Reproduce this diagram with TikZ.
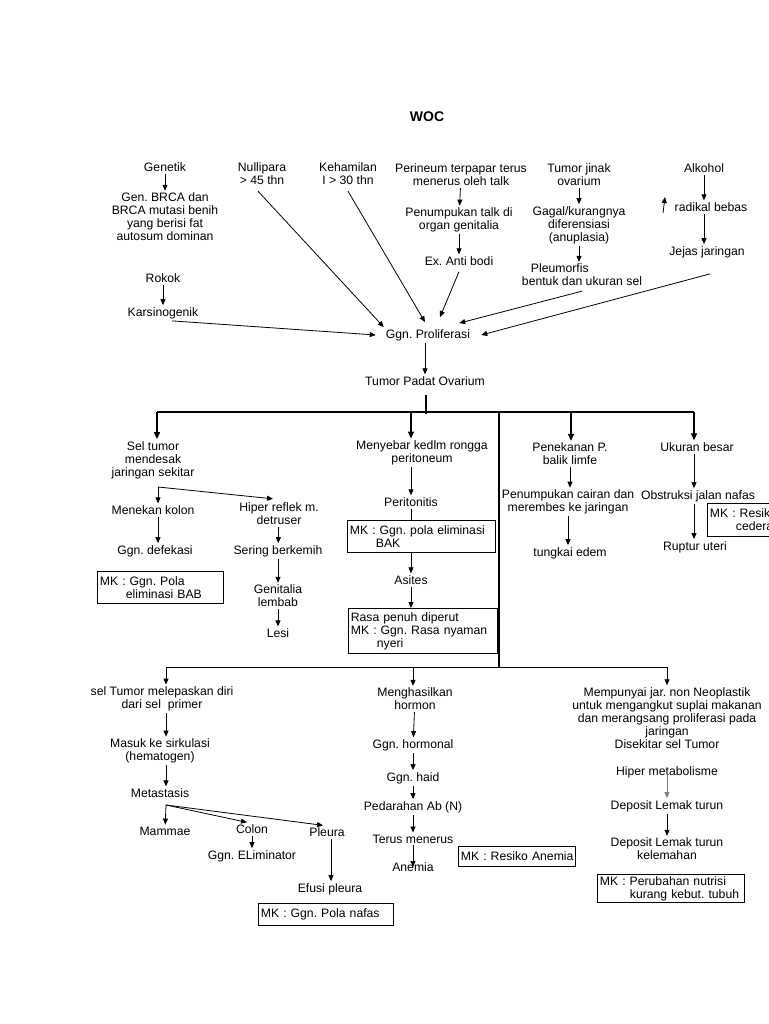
\documentclass[tikz,border=0pt]{standalone}
\usepackage{fontspec}
\setmainfont{Liberation Sans}
\usetikzlibrary{arrows.meta, calc}

\begin{document}
\frenchspacing
\begin{tikzpicture}[x=1pt,y=-1pt,
  every node/.style={font=\fontsize{12.2}{13}\selectfont,align=center,inner sep=2pt},
  arr/.style={-{Triangle[length=6pt,width=5pt]},line width=0.8pt},
  barr/.style={-{Triangle[length=7pt,width=6pt]},line width=1.3pt},
  mk/.style={draw,line width=0.8pt,align=left,anchor=north west,inner xsep=2pt,inner ysep=1pt}]
  \useasboundingbox (0,0) rectangle (768,1024);
  \path (427,117) node (woc) {\bfseries\fontsize{14}{16}\selectfont WOC};
  \path (165,167) node (gen) {Genetik} (165,217) node (brca) {Gen. BRCA dan\\BRCA mutasi benih\\yang berisi fat\\autosum dominan}
  (163,278) node (rok) {Rokok} (163,313) node (kar) {Karsinogenik};
  \path (262,174) node (nul) {Nullipara\\> 45 thn} (348,174) node (keh) {Kehamilan\\I > 30 thn};
  \path (461,175) node (per) {Perineum terpapar terus\\menerus oleh talk} (459,220) node (pen) {Penumpukan talk di\\organ genitalia}
  (459,261) node (exab) {Ex. Anti bodi};
  \path (579,175) node (tj) {Tumor jinak\\ovarium} (579,225) node (gag) {Gagal/kurangnya\\diferensiasi\\(anuplasia)}
  (582,275) node[align=left] (pleu) {\hspace*{9pt}Pleumorfis\\bentuk dan ukuran sel};
  \path (704,168) node (alk) {Alkohol} (711,207) node (rad) {radikal bebas} (707,252) node (jej) {Jejas jaringan};
  \coordinate (up0) at (663,213); \coordinate (up1) at (665,197);
  \path (428,335) node (ggn) {Ggn. Proliferasi} (425,381) node (tpo) {Tumor Padat Ovarium};
  \coordinate (bl) at (157,412); \coordinate (br) at (694,412); \coordinate (bs) at (426,414);
  \coordinate (ba) at (157,412); \coordinate (bb) at (411,412); \coordinate (bc) at (571,412); \coordinate (bd) at (694,412);
  \coordinate (vt) at (499,412); \coordinate (vb) at (499,668);
  \path (153,460) node (st) {Sel tumor\\mendesak\\jaringan sekitar} (153,510) node (mek) {Menekan kolon}
  (155,551) node (def) {Ggn. defekasi} (279,514) node (hr) {Hiper reflek m.\\detruser}
  (278,551) node (sb) {Sering berkemih} (278,596) node (gl) {Genitalia\\lembab} (278,633) node (lesi) {Lesi};
  \coordinate (sp) at (158,487);
  \node[mk,text width=121pt,minimum width=126pt,minimum height=32pt] (box1) at (97,571) {MK : Ggn. Pola\\\hspace*{26pt}eliminasi BAB};
  \path (422,453) node (mny) {Menyebar kedlm rongga\\peritoneum} (411,502) node (prt) {Peritonitis}
  (411,580) node (asi) {Asites};
  \node[mk,text width=143pt,minimum width=148pt,minimum height=32pt] (box2) at (347,520) {MK : Ggn. pola eliminasi\\\hspace*{26pt}BAK};
  \node[mk,text width=144pt,minimum width=149pt,minimum height=45pt] (box3) at (348,608) {Rasa penuh diperut\\MK : Ggn. Rasa nyaman\\\hspace*{26pt}nyeri};
  \path (570,454) node (pnk) {Penekanan P.\\balik limfe} (568,502) node (pnc) {Penumpukan cairan dan\\merembes ke jaringan}
  (570,553) node (tun) {tungkai edem};
  \path (697,447) node (ukb) {Ukuran besar} (698,496) node (obs) {Obstruksi jalan nafas} (695,547) node (rup) {Ruptur uteri};
  \node[mk,text width=90pt,minimum width=95pt,minimum height=33pt] (box4) at (707,503) {MK : Resiko\\\hspace*{26pt}cedera};
  \coordinate (cl) at (166,667); \coordinate (cr) at (667,667);
  \coordinate (ca) at (166,667); \coordinate (cb) at (413,667); \coordinate (cc) at (667,667);
  \path (162,699) node (slt) {sel Tumor melepaskan diri\\dari sel\ \ primer} (160,751) node (msk) {Masuk ke sirkulasi\\(hematogen)}
  (160,793) node (met) {Metastasis} (165,831) node (mam) {Mammae} (252,829) node (col) {Colon}
  (252,856) node (gel) {Ggn. ELiminator} (327,832) node (ple) {Pleura} (330,889) node (efu) {Efusi pleura};
  \coordinate (ms) at (166,805);
  \node[mk,text width=130pt,minimum width=135pt,minimum height=22pt] (box5) at (258,903) {\mbox{MK : Ggn. Pola nafas}};
  \path (415,699) node (mgh) {Menghasilkan\\hormon} (413,745) node (gh) {Ggn. hormonal} (413,778) node (ghd) {Ggn. haid}
  (413,807) node (pda) {Pedarahan Ab (N)} (413,839) node (trs) {Terus menerus} (413,867) node (ane) {Anemia};
  \node[mk,text width=112pt,minimum width=117pt,minimum height=20pt] (box6) at (458,846) {\mbox{MK : Resiko Anemia}};
  \path (667,718) node (mpy) {Mempunyai jar. non Neoplastik\\untuk mengangkut suplai makanan\\dan merangsang proliferasi pada\\jaringan\\Disekitar sel Tumor}
  (667,772) node (hm) {Hiper metabolisme} (667,806) node (dl1) {Deposit Lemak turun}
  (667,849) node (dl2) {Deposit Lemak turun\\kelemahan};
  \node[mk,text width=142pt,minimum width=147pt,minimum height=28pt] (box7) at (597,874) {MK : Perubahan nutrisi\\\hspace*{30pt}kurang kebut. tubuh};
  \draw[arr] (gen) -- (brca);
  \draw[arr] (rok) -- (kar);
  \draw[arr] (per) -- (pen);
  \draw[arr] (pen) -- (exab);
  \draw[arr] (tj) -- (gag);
  \draw[arr] (gag.south) -- (gag.south |- pleu.north);
  \draw[arr] (alk.south) -- (alk.south |- rad.north);
  \draw[arr] (rad.south -| alk.south) -- (jej.north -| alk.south);
  \draw[arr] (up0) -- (up1);
  \draw[arr] ([xshift=-4pt,yshift=-4pt]nul.south) -- (ggn.north west);
  \draw[arr] ([yshift=-4pt]keh.south) -- ([xshift=-3pt,yshift=5pt]ggn.north);
  \draw[arr] ([yshift=-4pt]exab.south) -- ([xshift=12pt,yshift=10pt]ggn.north);
  \draw[arr] ([yshift=-3pt]pleu.south) -- ([xshift=-13pt,yshift=4pt]ggn.north east);
  \draw[arr] ([xshift=3pt,yshift=-14pt]jej.south) -- ([xshift=9pt]ggn.east);
  \draw[arr] ([xshift=9pt]kar.south) -- ([xshift=-8pt]ggn.west);
  \draw[arr] (ggn.south -| tpo) -- (tpo);
  \draw[line width=2pt] ([yshift=-7pt]tpo.south -| bs) -- (bs);
  \draw[line width=2.4pt] (bl) -- (br);
  \draw[line width=2pt] (vt) -- (vb);
  \draw[barr] (ba) -- (ba |- st.north);
  \draw[barr] (bb) -- (bb |- mny.north);
  \draw[barr] (bc) -- (bc |- pnk.north);
  \draw[barr] (bd) -- (bd |- ukb.north);
  \draw[arr] (sp) -- (sp |- mek.north);
  \draw[arr] (sp) -- ([xshift=-6pt,yshift=2pt]hr.north);
  \draw[arr] (mek.south -| sp) -- (def.north -| sp);
  \draw[arr] (hr) -- (sb);
  \draw[arr] (sb) -- (gl);
  \draw[arr] (gl) -- (lesi);
  \draw[arr] (mny.south -| prt) -- (prt);
  \draw[line width=0.8pt] (prt) -- (box2.north -| prt);
  \draw[arr] (box2.south -| prt) -- (asi);
  \draw[arr] (asi) -- (box3.north -| asi);
  \draw[arr] (pnk) -- (pnk |- pnc.north);
  \draw[arr] (pnc) -- (pnc |- tun.north);
  \draw[arr] (ukb.south -| bd) -- (obs.north -| bd);
  \draw[arr] (obs.south -| bd) -- (rup.north -| bd);
  \draw[line width=1pt] (cl) -- (cr);
  \draw[arr] (ca) -- (ca |- slt.north);
  \draw[arr] (cb) -- (cb |- mgh.north);
  \draw[arr] (cc) -- (cc |- mpy.north);
  \draw[arr] (slt.south -| ca) -- (msk.north -| ca);
  \draw[arr] (msk.south -| ca) -- (met.north -| ca);
  \draw[arr] (ms) -- (mam);
  \draw[arr] (ms) -- ([xshift=-5pt]col.north);
  \draw[arr] (ms) -- ([xshift=-4pt]ple.north);
  \draw[arr] (col) -- (gel);
  \draw[arr] ([xshift=4pt]ple.south) -- ([xshift=1pt]efu.north);
  \draw[arr] (mgh) -- (gh);
  \draw[arr] (gh) -- (ghd);
  \draw[arr] (ghd) -- (pda);
  \draw[arr] (pda) -- (trs);
  \draw[arr] (trs.south) -- (ane.center);
  \draw[arr,gray] (hm.center) -- (dl1.north);
  \draw[arr] (dl1) -- (dl2);
\end{tikzpicture}
\end{document}
